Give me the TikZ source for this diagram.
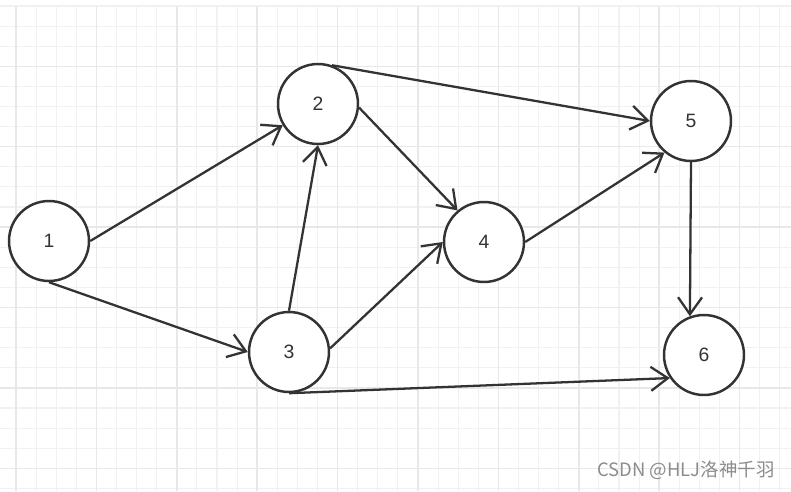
\documentclass[tikz,border=0pt]{standalone}
\usepackage{fontspec}
\setmainfont{Liberation Sans}
\newfontfamily\cjk{Noto Sans CJK SC}
\usetikzlibrary{arrows.meta}
\definecolor{inkgray}{HTML}{333333}
\definecolor{gridlight}{HTML}{F1F1F1}
\definecolor{griddark}{HTML}{E8E8E8}
\definecolor{markgray}{HTML}{8C8C8C}
\tikzset{
  vertex/.style={circle, draw=inkgray, line width=1.4pt, fill=white, minimum size=1.6cm, inner sep=0pt, text=inkgray, font=\fontsize{11}{12}\selectfont},
  edge/.style={draw=inkgray, line width=1.3pt, -{Straight Barb[length=3.4mm, width=4.8mm]}},
  gridminor/.style={gridlight, line width=0.6pt},
  gridmajor/.style={griddark, line width=0.9pt}
}
\begin{document}
\begin{tikzpicture}[x=0.02cm, y=-0.02cm]
  \useasboundingbox (0,0) rectangle (791,491);
  \fill[white] (0,0) rectangle (791,491);

  % Cuadricula de fondo
  \foreach \k in {0,...,38} {
    \draw[gridminor] ({16+20.1*\k},6) -- ({16+20.1*\k},491);
  }
  \foreach \k in {0,...,24} {
    \draw[gridminor] (0,{6+20.1*\k}) -- (791,{6+20.1*\k});
  }
  \foreach \k in {0,4,...,36} {
    \draw[gridmajor] ({16+20.1*\k},6) -- ({16+20.1*\k},491);
  }
  \foreach \k in {3,7,...,23} {
    \draw[gridmajor] (0,{6+20.1*\k}) -- (791,{6+20.1*\k});
  }

  % Vertices
  \node[vertex] (n1) at (49,241) {1};
  \node[vertex] (n2) at (318,104) {2};
  \node[vertex] (n3) at (289,352) {3};
  \node[vertex] (n4) at (484,242) {4};
  \node[vertex] (n5) at (691,121) {5};
  \node[vertex] (n6) at (704,355) {6};

  % Aristas
  \draw[edge] (n1.east) -- (n2);
  \draw[edge] (n1.south) -- (n3.west);
  \draw[edge] (n2.70) -- (n5.west);
  \draw[edge] (n2.-5) -- (n4.130);
  \draw[edge] (n3.north) -- (n2.south);
  \draw[edge] (n3.5) -- (n4.west);
  \draw[edge] (n3.south) -- (n6.214);
  \draw[edge] (n4.east) -- (n5.230);
  \draw[edge] (n5.south) -- (n6.110);

  % Marca de agua
  \node[text=markgray, font=\cjk\fontsize{10.5}{12}\selectfont, inner sep=0pt] (mark) at (686,470) {CSDN @HLJ洛神千羽};
\end{tikzpicture}
\end{document}
